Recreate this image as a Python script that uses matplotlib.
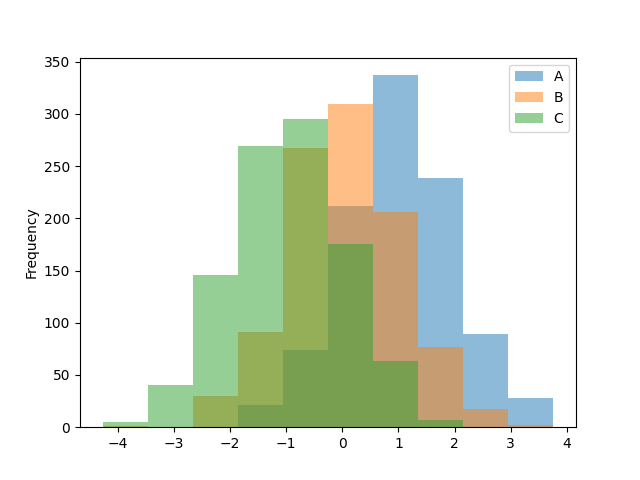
import numpy as np
import matplotlib
matplotlib.use("Agg")
import matplotlib.pyplot as plt

# shared bin edges (10 bins)
edges = np.linspace(-4.27, 3.76, 11)

# counts per bin for each column
counts_a = [0, 0, 0, 21, 74, 212, 337, 239, 89, 28]
counts_b = [1, 0, 30, 91, 267, 309, 206, 77, 17, 2]
counts_c = [5, 40, 146, 269, 295, 175, 63, 7, 0, 0]

labels = ["A", "B", "C"]
series = [counts_a, counts_b, counts_c]

centers = (edges[:-1] + edges[1:]) / 2

fig, ax = plt.subplots(figsize=(6.4, 4.8), dpi=100)
for lab, cnt in zip(labels, series):
    ax.hist(centers, bins=edges, weights=cnt, alpha=0.5, label=lab)

ax.set_ylabel("Frequency")
ax.legend(loc="upper right")

fig.savefig("out.png", dpi=100)
